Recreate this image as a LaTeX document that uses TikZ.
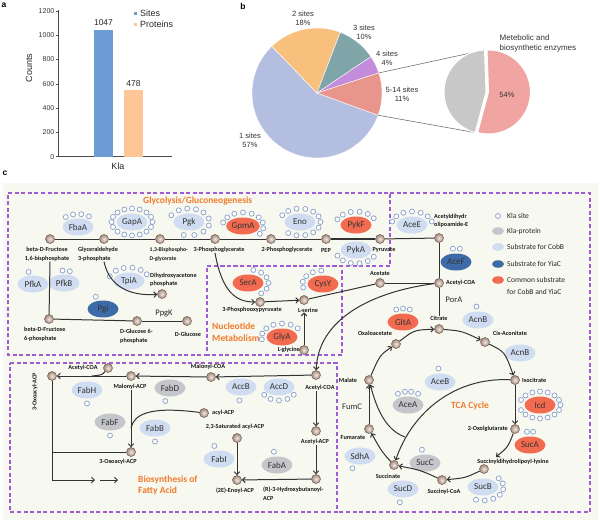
\documentclass[tikz,border=0pt]{standalone}
\usepackage{fontspec}
\setmainfont{Carlito}
\newfontfamily\arialf{Liberation Sans}
\usetikzlibrary{calc,arrows.meta,shapes.geometric}
\definecolor{cbg}{HTML}{F7F8EF}
\definecolor{cpurp}{HTML}{A25BD6}
\definecolor{corg}{HTML}{F07B2E}
\definecolor{clb}{HTML}{CFDCF1}
\definecolor{cdb}{HTML}{3D6BA8}
\definecolor{cred}{HTML}{F26B50}
\definecolor{cgray}{HTML}{C5C6CC}
\definecolor{ckla}{HTML}{8DA3CC}
\definecolor{cmetl}{HTML}{EFE6E0}
\definecolor{cmeto}{HTML}{A68A7C}
\definecolor{cmetd}{HTML}{6E5A50}
\definecolor{cline}{HTML}{333333}
\definecolor{cbarb}{HTML}{6C9BD5}
\definecolor{cbaro}{HTML}{FDC697}
\definecolor{pone}{HTML}{B4BEE0}
\definecolor{ptwo}{HTML}{F8C07C}
\definecolor{pthree}{HTML}{7FA5A8}
\definecolor{pfour}{HTML}{C38DDC}
\definecolor{pfive}{HTML}{E8958C}
\definecolor{pgrey}{HTML}{C8C8C8}
\definecolor{ppink}{HTML}{F0A5A3}
\newcommand\klaring[4]{\foreach \a [count=\i] in {#4} {\node[kla] (#1-k\i) at ($(#1.center)+(\a:#2pt and #3pt)$) {};}}
\begin{document}
\begin{tikzpicture}[x=1pt,y=-1pt,
  enz/.style={ellipse, minimum width=31pt, minimum height=17pt, inner sep=0.5pt, font=\fontsize{9}{10}\selectfont, text=black!80},
  lbE/.style={enz, fill=clb},
  dbE/.style={enz, fill=cdb},
  redE/.style={enz, fill=cred},
  grE/.style={enz, fill=cgray},
  kla/.style={circle, draw=ckla, fill=white, line width=0.75pt, minimum size=5pt, inner sep=0pt},
  met/.style={circle, draw=cmetd, line width=0.5pt, inner color=cmetl, outer color=cmeto, minimum size=9pt, inner sep=0pt},
  mlab/.style={font=\bfseries\fontsize{6.2}{8.6}\selectfont, text=black!90, inner sep=0pt, align=center},
  mlabl/.style={mlab, align=left, anchor=west},
  etxt/.style={font=\fontsize{8.5}{10}\selectfont, text=black!85, inner sep=0pt},
  title/.style={text=corg, font=\bfseries\fontsize{9.5}{12}\selectfont, align=left, inner sep=0pt},
  conn/.style={draw=cline, line width=1pt},
  arr/.style={conn, -{Straight Barb[length=2.8pt,width=5.5pt]}},
  dbox/.style={draw=cpurp, line width=1.1pt, dash pattern=on 4pt off 2.6pt},
  ax/.style={font=\arialf\fontsize{7}{8}\selectfont, text=black!80, inner sep=0pt},
  axl/.style={font=\arialf\fontsize{9}{10}\selectfont, text=black!85, inner sep=0pt},
  pl/.style={font=\arialf\fontsize{7.5}{9}\selectfont, text=black!80, inner sep=0pt, align=center},
  lgt/.style={font=\fontsize{7.5}{12}\selectfont, text=black!85, inner sep=0pt, anchor=west, align=left},
  plab/.style={font=\arialf\bfseries\fontsize{8.5}{9}\selectfont, inner sep=0pt}]
\useasboundingbox (0,0) rectangle (600,523);

% ---------------- panel a
\node[plab] (pa) at (4,5) {a};
\draw[black!70, line width=0.6pt] (58,10) -- (58,156.7) -- (172,156.7);
\foreach \v in {0,200,400,600,800,1000,1200} {
  \draw[black!70, line width=0.6pt] (56,{156.7-0.1215*\v}) -- (58,{156.7-0.1215*\v});
  \node[ax, anchor=east] (tk\v) at (54.5,{156.7-0.1215*\v}) {\v};
}
\fill[cbarb] (94,29.5) rectangle (113,156.7);
\fill[cbaro] (124,89.5) rectangle (143,156.7);
\node[axl, font=\arialf\fontsize{8.5}{9}\selectfont] (v1047) at (103.5,23) {1047};
\node[axl, font=\arialf\fontsize{8.5}{9}\selectfont] (v478) at (133.5,83.5) {478};
\fill[cbarb] (133.5,11.8) rectangle (136.5,14.8);
\fill[cbaro] (133.5,22.8) rectangle (136.5,25.8);
\node[axl, anchor=west] (lsites) at (140,13.3) {Sites};
\node[axl, anchor=west] (lprot) at (140,24.3) {Proteins};
\node[axl, rotate=90] (counts) at (29,68) {Counts};
\node[axl] (kla) at (118,166) {Kla};

% ---------------- panel b
\node[plab] (pb) at (243,6) {b};
\coordinate (pc) at (317,93);
\filldraw[fill=pone, draw=white, line width=0.4pt] (pc) -- ++(134:65pt) arc[start angle=134, end angle=340, radius=65pt] -- cycle;
\filldraw[fill=ptwo, draw=white, line width=0.4pt] (pc) -- ++(69:65pt) arc[start angle=69, end angle=134, radius=65pt] -- cycle;
\filldraw[fill=pthree, draw=white, line width=0.4pt] (pc) -- ++(34:65pt) arc[start angle=34, end angle=69, radius=65pt] -- cycle;
\filldraw[fill=pfour, draw=white, line width=0.4pt] (pc) -- ++(18:65pt) arc[start angle=18, end angle=34, radius=65pt] -- cycle;
\filldraw[fill=pfive, draw=white, line width=0.4pt] (pc) -- ++(-20:65pt) arc[start angle=-20, end angle=18, radius=65pt] -- cycle;
\node[pl] (s2) at (303,18.5) {2 sites\\18\%};
\node[pl] (s3) at (364,32.5) {3 sites\\10\%};
\node[pl] (s4) at (387,58.5) {4 sites\\4\%};
\node[pl] (s5) at (402,94.5) {5-14 sites\\11\%};
\node[pl] (s1) at (250,140.5) {1 sites\\57\%};
\coordinate (bp1) at ($(pc)+(18:65pt)$);
\coordinate (bp2) at ($(pc)+(-20:65pt)$);
\coordinate (sc) at (486,92);
\coordinate (sp1) at ($(sc)+(92:42pt)$);
\coordinate (sp2) at ($(sc)+(255:42pt)$);
\draw[black!55, line width=0.6pt] (bp1) -- (sp1);
\draw[black!55, line width=0.6pt] (bp2) -- (sp2);
\filldraw[fill=pgrey, draw=white, line width=1pt] (sc) -- ++(92:42pt) arc[start angle=92, end angle=255, radius=42pt] -- cycle;
\filldraw[fill=ppink, draw=white, line width=1pt] ($(sc)+(2.5,0)$) -- ++(-105:42pt) arc[start angle=-105, end angle=92, radius=42pt] -- cycle;
\node[pl] (p54) at (507,95) {54\%};
\node[pl, align=left, anchor=west, font=\arialf\fontsize{8}{10}\selectfont] (metb) at (499.5,43) {Metebolic and\\biosynthetic enzymes};

% ---------------- panel c
\node[plab] (pcl) at (5,173) {c};
\fill[cbg] (3,183) rectangle (598,520);
\draw[dbox] (8,193) -- (390,193) -- (390,266) -- (207,266) -- (207,355) -- (8,355) -- cycle;
\draw[dbox] (207,266) -- (342,266) -- (342,355) -- (207,355);
\draw[dbox] (10,363) -- (337,363) -- (337,512) -- (10,512) -- cycle;
\draw[dbox] (390,193) -- (590,193) -- (590,512) -- (337,512);

\node[title, anchor=west] (tglyc) at (143,201) {Glycolysis/Gluconeogenesis};
\node[title, anchor=west] (tnuc) at (212,332) {Nucleotide\\Metabolism};
\node[title, anchor=west, font=\bfseries\fontsize{9.5}{11}\selectfont] (tfat) at (138,485.5) {Biosynthesis of\\Fatty Acid};
\node[title] (ttca) at (470,406) {TCA Cycle};

% enzymes
\node[lbE] (FbaA) at (78,227) {FbaA};
\klaring{FbaA}{19}{13}{130,105,80,55}
\node[lbE] (GapA) at (132,222) {GapA};
\klaring{GapA}{20.5}{13.5}{0,22,45,68,90,112,135,158,180,202,225,248,270,292,315,338}
\node[lbE] (Pgk) at (189,222) {Pgk};
\klaring{Pgk}{20.5}{13.5}{150,120,95,70,45,15,-15,-45,-75,-105}
\node[redE] (GpmA) at (243,226) {GpmA};
\klaring{GpmA}{20.5}{13.5}{165,140,115,90,65,40,15,-10,-35}
\node[lbE] (Eno) at (300,222) {Eno};
\klaring{Eno}{20.5}{13.5}{150,125,100,75,50,25,0,-25,-50,-75,-100,-125}
\node[redE] (PykF) at (356,225) {PykF};
\klaring{PykF}{20.5}{13.5}{155,130,105,80,55,30}
\node[lbE] (PykA) at (356,250) {PykA};
\klaring{PykA}{20.5}{13.5}{-155,-130,-105,-80,-55,-30}
\node[lbE] (AceE) at (412,225) {AceE};
\klaring{AceE}{20.5}{13.5}{165,140,115,90,65,40,15}
\node[dbE] (AceF) at (456,262) {AceF};
\klaring{AceF}{18}{13.5}{100,78}
\node[lbE] (TpiA) at (129,281) {TpiA};
\klaring{TpiA}{20.5}{13.5}{160,130,105,80,55,30}
\node[lbE] (PfkA) at (33,284) {PfkA};
\klaring{PfkA}{17}{12.5}{105}
\node[lbE] (PfkB) at (64,283) {PfkB};
\klaring{PfkB}{17}{12.5}{95,70}
\node[dbE] (Pgi) at (103,309) {Pgi};
\klaring{Pgi}{17}{13.5}{115}
\node[redE] (SerA) at (248,283) {SerA};
\klaring{SerA}{20.5}{13.5}{75,50,25,0,-25,-50}
\node[redE] (CysY) at (323,284) {CysY};
\klaring{CysY}{20.5}{13.5}{95,120,145,170,195}
\node[redE] (GlyA) at (282,337) {GlyA};
\klaring{GlyA}{20.5}{13.5}{190,165,140,115,90,65,40}
\node[redE] (GltA) at (403,322) {GltA};
\klaring{GltA}{18}{13.5}{112,90,68}
\node[lbE] (AcnBa) at (478,320) {AcnB};
\klaring{AcnBa}{18}{13.5}{95}
\node[lbE] (AcnBb) at (520,353) {AcnB};
\node[lbE] (AceB) at (440,382) {AceB};
\klaring{AceB}{18}{13.5}{95}
\node[grE] (AceA) at (408,405) {AceA};
\klaring{AceA}{18}{13.5}{124,100,80,56}
\node[redE] (Icd) at (540,405) {Icd};
\klaring{Icd}{20.5}{13.5}{0,22,45,68,90,112,135,158,202,225,248,270,292,315,338}
\node[redE] (SucA) at (530,445) {SucA};
\klaring{SucA}{18}{13.5}{100,80}
\node[lbE] (SucB) at (483,487) {SucB};
\klaring{SucB}{20.5}{13.5}{40,15,-10,-35,-60,-85,-110}
\node[grE] (SucC) at (425,463) {SucC};
\klaring{SucC}{18}{13.5}{100}
\node[lbE] (SucD) at (403,489) {SucD};
\klaring{SucD}{18}{13.5}{-100}
\node[lbE] (SdhA) at (360,456) {SdhA};
\klaring{SdhA}{18}{13.5}{-115}
\node[lbE] (FabH) at (87,390) {FabH};
\klaring{FabH}{18}{13.5}{-90}
\node[grE] (FabD) at (170,388) {FabD};
\klaring{FabD}{18}{13.5}{-105}
\node[lbE] (AccB) at (241,387) {AccB};
\klaring{AccB}{18}{13.5}{-95}
\node[lbE] (AccD) at (279,387) {AccD};
\klaring{AccD}{18}{13.5}{-145,-118,-90,-62,-35}
\node[grE] (FabF) at (110,422) {FabF};
\klaring{FabF}{18}{13.5}{-90}
\node[lbE] (FabB) at (155,428) {FabB};
\klaring{FabB}{18}{13.5}{-90}
\node[lbE] (FabI) at (219,459) {FabI};
\klaring{FabI}{18}{13.5}{105}
\node[grE] (FabA) at (277,465) {FabA};
\klaring{FabA}{18}{13.5}{100}

% metabolites
\node[met] (m_fbp) at (50,239) {};
\node[met] (m_g3p) at (104,239) {};
\node[met] (m_bpg) at (160,239) {};
\node[met] (m_3pg) at (215,239) {};
\node[met] (m_2pg) at (271,239) {};
\node[met] (m_pep) at (326,239) {};
\node[met] (m_pyr) at (380,239) {};
\node[met] (m_adl) at (439,238) {};
\node[met] (m_acoa) at (439,283) {};
\node[met] (m_acet) at (380,283) {};
\node[met] (m_dhap) at (162,294) {};
\node[met] (m_f6p) at (49,319) {};
\node[met] (m_g6p) at (137,321) {};
\node[met] (m_glc) at (187,321) {};
\node[met] (m_3pp) at (260,302) {};
\node[met] (m_ser) at (304,300) {};
\node[met] (m_gly) at (304,350) {};
\node[met] (m_oaa) at (396,344) {};
\node[met] (m_cit) at (439,329) {};
\node[met] (m_cis) at (485,342) {};
\node[met] (m_icit) at (515,380) {};
\node[met] (m_mal) at (369,380) {};
\node[met] (m_fum) at (369,429) {};
\node[met] (m_suc) at (394,465) {};
\node[met] (m_oxg) at (515,429) {};
\node[met] (m_sdl) at (484,469) {};
\node[met] (m_sca) at (442,480) {};
\node[met] (m_acoaF) at (316,375) {};
\node[met] (m_mcoa) at (211,377) {};
\node[met] (m_macp) at (131,376) {};
\node[met] (m_acoa2) at (108,368) {};
\node[met] (m_oxo1) at (52,376) {};
\node[met] (m_oxo2) at (131,452) {};
\node[met] (m_acyl) at (204,413) {};
\node[met] (m_sat) at (237,438) {};
\node[met] (m_enoyl) at (237,480) {};
\node[met] (m_aacp) at (316,431) {};
\node[met] (m_hb) at (316,479) {};

% metabolite labels
\node[mlab] (l_fbp) at (47,254.5) {beta-D-Fructose\\1,6-bisphosphate};
\node[mlabl] (l_g3p) at (78,254.5) {Glyceraldehyde\\3-phosphate};
\node[mlabl, font=\bfseries\fontsize{5.7}{8.6}\selectfont] (l_bpg) at (149.5,254.5) {1,3-Bisphospho-\\D-glycerate};
\node[mlab] (l_3pg) at (219,250) {3-Phosphoglycerate};
\node[mlab] (l_2pg) at (287,250) {2-Phosphoglycerate};
\node[mlab] (l_pep) at (326,250) {PEP};
\node[mlab] (l_pyr) at (384,250) {Pyruvate};
\node[mlabl] (l_adl) at (434,221) {Acetyldihydr\\olipoamide-E};
\node[mlabl] (l_acoa) at (446,283) {Acetyl-COA};
\node[mlab] (l_acet) at (380,274) {Acetate};
\node[mlabl] (l_dhap) at (150,280) {Dihydroxyacetone\\phosphate};
\node[mlabl] (l_f6p) at (24,334.5) {beta-D-Fructose\\6-phosphate};
\node[mlabl] (l_g6p) at (120,336.5) {D-Glucose 6-\\phosphate};
\node[mlab] (l_glc) at (188,334) {D-Glucose};
\node[mlab] (l_3pp) at (252,310) {3-Phosphooxypyruvate};
\node[mlab] (l_ser) at (308,310) {L-serine};
\node[mlab, anchor=east] (l_gly) at (300,350) {L-glycine};
\node[mlab] (l_oaa) at (375,333) {Oxaloacetate};
\node[mlab] (l_cit) at (439,318) {Citrate};
\node[mlab] (l_cis) at (510,333) {Cis-Aconitate};
\node[mlabl] (l_icit) at (522,380) {Isocitrate};
\node[mlab] (l_mal) at (348,380) {Malate};
\node[mlab] (l_fum) at (353,438) {Fumarate};
\node[mlab] (l_suc) at (388,476) {Succinate};
\node[mlab, anchor=east] (l_oxg) at (508,429) {2-Oxolglutarate};
\node[mlab] (l_sdl) at (513,462) {Succinyldihydrolipoyl-lysine};
\node[mlab] (l_sca) at (444,492) {Succinyl-CoA};
\node[mlab] (l_acoaF) at (320,388) {Acetyl-COA};
\node[mlab] (l_mcoa) at (208,367) {Malonyl-COA};
\node[mlab] (l_macp) at (130,387) {Malonyl-ACP};
\node[mlab] (l_acoa2) at (83,368) {Acetyl-COA};
\node[mlab, rotate=90] (l_oxo1) at (35,392) {3-Oxoacyl-ACP};
\node[mlab] (l_oxo2) at (118,462) {3-Oxoacyl-ACP};
\node[mlabl] (l_acyl) at (212,413) {acyl-ACP};
\node[mlab] (l_sat) at (235,427) {2,3-Saturated acyl-ACP};
\node[mlab] (l_enoyl) at (235,491) {(2E)-Enoyl-ACP};
\node[mlab] (l_aacp) at (315,442) {Acetyl-ACP};
\node[mlabl] (l_hb) at (263,494) {(R)-3-Hydroxybutanoyl-\\ACP};

% enzyme text labels on lines
\node[etxt] (PorA) at (454,300) {PorA};
\node[etxt] (PpgK) at (164,313) {PpgK};
\node[etxt] (FumC) at (352,407) {FumC};

% free connector ends
\coordinate (c_sdl) at (496,457);
\coordinate (j2) at (92,376);
\coordinate (j3) at (131,428);
\coordinate (cb1) at (52,480);
\coordinate (cb2) at (95,480);
\coordinate (cb3) at (100,480);
\coordinate (cb4) at (118,480);
\coordinate (cj4) at (52,452);
\coordinate (brA) at (405,437);

% connectors: glycolysis
\draw[conn] (m_fbp) -- (m_g3p);
\draw[conn] (m_g3p) -- (m_bpg);
\draw[conn] (m_bpg) -- (m_3pg);
\draw[conn] (m_3pg) -- (m_2pg);
\draw[conn] (m_2pg) -- (m_pep);
\draw[conn, line width=1.6pt] (m_pep) -- (m_pyr);
\draw[conn] (m_pyr) -- (m_adl);
\draw[conn] (m_adl) -- (m_acoa);
\draw[conn] (m_acet) -- (m_acoa);
\draw[conn] (l_fbp.south -| m_fbp) -- (m_f6p);
\draw[conn] (m_f6p) -- (m_g6p);
\draw[conn] (m_g6p) -- (m_glc);
\draw[arr] (l_g3p.south -| m_g3p) .. controls (110,290) and (135,296) .. (m_dhap);
% nucleotide
\draw[arr] (l_3pg.south -| m_3pg) .. controls (222,292) and (236,302) .. (m_3pp);
\draw[arr] (m_3pp) -- (m_ser);
\draw[conn] (m_ser) -- (m_acet);
\draw[arr] (m_gly) -- (m_gly |- l_ser.south);
% TCA
\draw[arr] (m_acoa) .. controls (370,292) and (318,320) .. (m_acoaF);
\draw[conn] (m_acoa) -- (m_acoa |- l_cit.north);
\draw[arr] (m_oaa) .. controls (414,330) .. (m_cit);
\draw[arr] (m_cit) .. controls (462,331) .. (m_cis);
\draw[arr] (m_cis) .. controls (505,352) .. (m_icit);
\draw[arr] (m_icit) -- (m_oxg);
\draw[arr] (m_oxg) .. controls (508,447) .. (c_sdl);
\draw[arr] (m_sdl) .. controls (465,478) .. (m_sca);
\draw[arr] (m_sca) .. controls (420,470) .. (m_suc);
\draw[arr] (m_suc) .. controls (382,452) .. (m_fum);
\draw[arr] (m_fum) -- (m_mal);
\draw[arr] (m_mal) .. controls (380,355) .. (m_oaa);
\draw[arr] (m_icit) .. controls (455,377) and (412,412) .. (m_suc);
\draw[arr] (brA) .. controls (386,430) and (377,410) .. (m_mal);
% fatty acid
\draw[arr] (m_acoaF) -- (m_mcoa);
\draw[arr] (m_mcoa) -- (m_macp);
\draw[arr] (m_macp) -- (m_oxo1);
\draw[conn] (m_acoa2) .. controls (102,375) .. (j2);
\draw[arr] (l_macp.south -| m_macp) -- (m_oxo2);
\draw[conn] (m_acyl) .. controls (150,406) and (134,414) .. (j3);
\draw[arr] (m_oxo1) -- (cb1) -- (cb2);
\draw[arr] (cb3) -- (cb4);
\draw[conn] (cj4) -- (m_oxo2);
\draw[arr] (l_acoaF.south -| m_acoaF) -- (m_aacp);
\draw[arr] (l_aacp.south -| m_aacp) -- (m_hb);
\draw[arr] (m_hb) -- (m_enoyl);
\draw[arr] (m_sat) -- (m_enoyl);

% legend
\node[kla] (lg1) at (498,216) {};
\node[lgt] (lt1) at (507,216) {Kla site};
\node[ellipse, fill=cgray, minimum width=12pt, minimum height=7.5pt, inner sep=0pt] (lg2) at (498,231) {};
\node[lgt] (lt2) at (507,231) {Kla-protein};
\node[ellipse, fill=clb, minimum width=12pt, minimum height=7.5pt, inner sep=0pt] (lg3) at (498,247) {};
\node[lgt] (lt3) at (507,247) {Substrate for CobB};
\node[ellipse, fill=cdb, minimum width=12pt, minimum height=7.5pt, inner sep=0pt] (lg4) at (498,264) {};
\node[lgt] (lt4) at (507,264) {Substrate for YiaC};
\node[ellipse, fill=cred, minimum width=12pt, minimum height=7.5pt, inner sep=0pt] (lg5) at (498,280) {};
\node[lgt] (lt5) at (507,286) {Common substrate\\for CobB and YiaC};
\end{tikzpicture}
\end{document}
